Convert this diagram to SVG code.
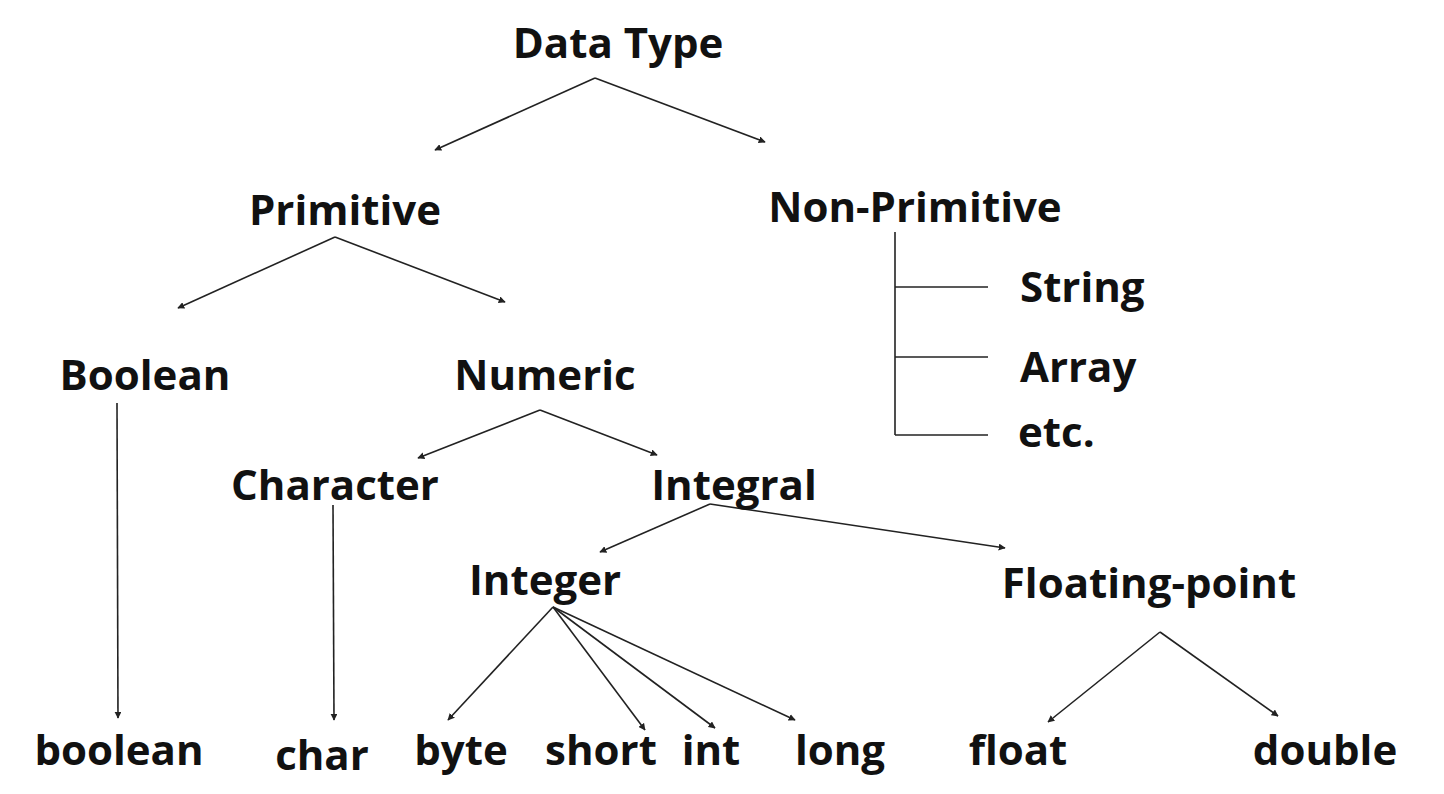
<svg xmlns="http://www.w3.org/2000/svg" width="1444" height="794" viewBox="0 0 1444 794">
<style>
text{font-family:"Open Sans","Liberation Sans",sans-serif;font-weight:bold;font-size:42px;fill:#111;text-anchor:middle}
.l{text-anchor:start}
line{stroke:#222;stroke-width:1.6}
.a{marker-end:url(#ah)}
</style>
<defs><marker id="ah" viewBox="0 0 10 10" refX="9" refY="5" markerWidth="7" markerHeight="7" orient="auto" markerUnits="userSpaceOnUse"><path d="M0,0L10,5L0,10z" fill="#222"/></marker></defs>
<rect width="1444" height="794" fill="#fff"/>
<g id="connectors">
<line class="a" x1="595" y1="78" x2="435" y2="150"/>
<line class="a" x1="595" y1="78" x2="765" y2="142"/>
<line class="a" x1="335" y1="237" x2="178" y2="308"/>
<line class="a" x1="335" y1="237" x2="505" y2="302"/>
<line class="a" x1="540" y1="410" x2="418" y2="458"/>
<line class="a" x1="540" y1="410" x2="657" y2="455"/>
<line class="a" x1="117" y1="403" x2="118" y2="718"/>
<line class="a" x1="333" y1="505" x2="334" y2="720"/>
<line class="a" x1="710" y1="504" x2="600" y2="552"/>
<line class="a" x1="710" y1="504" x2="1005" y2="548"/>
<line class="a" x1="553" y1="607" x2="448" y2="720"/>
<line class="a" x1="553" y1="607" x2="645" y2="730"/>
<line class="a" x1="553" y1="607" x2="715" y2="728"/>
<line class="a" x1="553" y1="607" x2="795" y2="720"/>
<line class="a" x1="1160" y1="632" x2="1048" y2="722"/>
<line class="a" x1="1160" y1="632" x2="1278" y2="716"/>
<line x1="895" y1="232" x2="895" y2="435"/>
<line x1="895" y1="287" x2="988" y2="287"/>
<line x1="895" y1="357" x2="988" y2="357"/>
<line x1="895" y1="435" x2="988" y2="435"/>
</g>
<g id="n-datatype"><text x="618" y="58">Data Type</text></g>
<g id="n-primitive"><text x="345" y="225">Primitive</text></g>
<g id="n-nonprimitive"><text x="915" y="222">Non-Primitive</text></g>
<g id="n-string"><text class="l" x="1020" y="302">String</text></g>
<g id="n-array"><text class="l" x="1020" y="382">Array</text></g>
<g id="n-etc"><text class="l" x="1018" y="447">etc.</text></g>
<g id="n-boolean-cat"><text x="145" y="390">Boolean</text></g>
<g id="n-numeric"><text x="545" y="390">Numeric</text></g>
<g id="n-character"><text x="335" y="500">Character</text></g>
<g id="n-integral"><text x="734" y="500">Integral</text></g>
<g id="n-integer"><text x="545" y="595">Integer</text></g>
<g id="n-floating"><text x="1149" y="598">Floating-point</text></g>
<g id="n-boolean"><text x="119" y="765">boolean</text></g>
<g id="n-char"><text x="322" y="770">char</text></g>
<g id="n-byte"><text x="461" y="765">byte</text></g>
<g id="n-short"><text x="601" y="765">short</text></g>
<g id="n-int"><text x="711" y="765">int</text></g>
<g id="n-long"><text x="840" y="765">long</text></g>
<g id="n-float"><text x="1018" y="765">float</text></g>
<g id="n-double"><text x="1325" y="765">double</text></g>
</svg>
